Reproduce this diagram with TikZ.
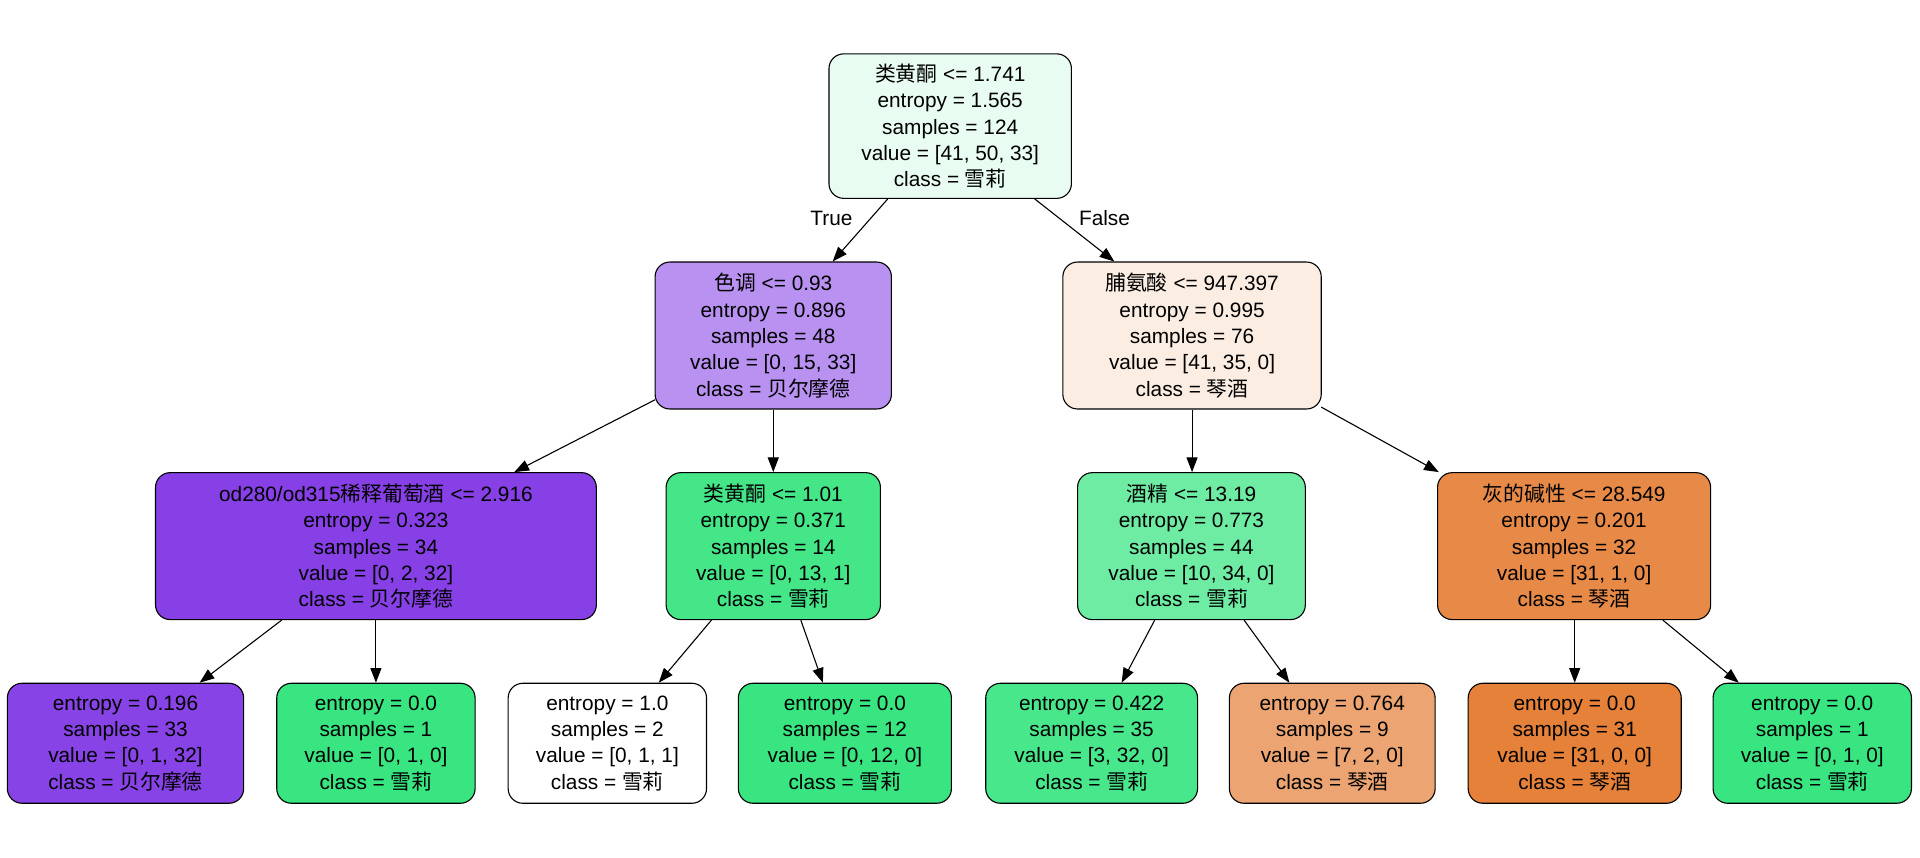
\documentclass[tikz,border=0pt]{standalone}
\usepackage{fontspec}
\setmainfont{Liberation Sans}
\newfontfamily\cjk{Noto Sans CJK SC}
\newcommand\zh[1]{{\cjk #1}}
\usetikzlibrary{calc,arrows.meta}
\begin{document}
\begin{tikzpicture}[x=1pt,y=-1pt,
  box/.style={draw,line width=0.9pt,rounded corners=12pt,align=center,inner sep=0pt,
    font=\fontsize{17}{21.5}\selectfont},
  ed/.style={line width=0.9pt,-{Triangle[length=12pt,width=9pt]}},
  lbl/.style={font=\fontsize{17}{20}\selectfont}]
\useasboundingbox[fill=white] (0,0) rectangle (1568,700);
\definecolor{c0}{HTML}{E9FCF1}
\definecolor{c1}{HTML}{B991F1}
\definecolor{c2}{HTML}{FBEDE2}
\definecolor{c3}{HTML}{8640E6}
\definecolor{c4}{HTML}{44E688}
\definecolor{c5}{HTML}{6FECA3}
\definecolor{c6}{HTML}{E78A48}
\definecolor{c7}{HTML}{8843E6}
\definecolor{c8}{HTML}{39E581}
\definecolor{c9}{HTML}{49E78C}
\definecolor{c10}{HTML}{ECA572}
\definecolor{c11}{HTML}{E58139}
\node[box,fill=c0,minimum width=198pt,minimum height=118pt] (r) at (776,103) {\zh{类黄酮} <= 1.741\\entropy = 1.565\\samples = 124\\value = [41, 50, 33]\\class = \zh{雪莉}};
\node[box,fill=c1,minimum width=193pt,minimum height=120pt] (l) at (631.5,274) {\zh{色调} <= 0.93\\entropy = 0.896\\samples = 48\\value = [0, 15, 33]\\class = \zh{贝尔摩德}};
\node[box,fill=c2,minimum width=211pt,minimum height=120pt] (rr) at (973.5,274) {\zh{脯氨酸} <= 947.397\\entropy = 0.995\\samples = 76\\value = [41, 35, 0]\\class = \zh{琴酒}};
\node[box,fill=c3,minimum width=360pt,minimum height=120pt] (A) at (307,446) {od280/od315\zh{稀释葡萄酒} <= 2.916\\entropy = 0.323\\samples = 34\\value = [0, 2, 32]\\class = \zh{贝尔摩德}};
\node[box,fill=c4,minimum width=175pt,minimum height=120pt] (B) at (631.5,446) {\zh{类黄酮} <= 1.01\\entropy = 0.371\\samples = 14\\value = [0, 13, 1]\\class = \zh{雪莉}};
\node[box,fill=c5,minimum width=186pt,minimum height=120pt] (C) at (973,446) {\zh{酒精} <= 13.19\\entropy = 0.773\\samples = 44\\value = [10, 34, 0]\\class = \zh{雪莉}};
\node[box,fill=c6,minimum width=223pt,minimum height=120pt] (D) at (1285.5,446) {\zh{灰的碱性} <= 28.549\\entropy = 0.201\\samples = 32\\value = [31, 1, 0]\\class = \zh{琴酒}};
\node[box,fill=c7,minimum width=193pt,minimum height=98pt] (a) at (102.5,607) {entropy = 0.196\\samples = 33\\value = [0, 1, 32]\\class = \zh{贝尔摩德}};
\node[box,fill=c8,minimum width=162pt,minimum height=98pt] (b) at (307,607) {entropy = 0.0\\samples = 1\\value = [0, 1, 0]\\class = \zh{雪莉}};
\node[box,fill=white,minimum width=162pt,minimum height=98pt] (c) at (496,607) {entropy = 1.0\\samples = 2\\value = [0, 1, 1]\\class = \zh{雪莉}};
\node[box,fill=c8,minimum width=174pt,minimum height=98pt] (d) at (690,607) {entropy = 0.0\\samples = 12\\value = [0, 12, 0]\\class = \zh{雪莉}};
\node[box,fill=c9,minimum width=173pt,minimum height=98pt] (e) at (891.5,607) {entropy = 0.422\\samples = 35\\value = [3, 32, 0]\\class = \zh{雪莉}};
\node[box,fill=c10,minimum width=168pt,minimum height=98pt] (f) at (1088,607) {entropy = 0.764\\samples = 9\\value = [7, 2, 0]\\class = \zh{琴酒}};
\node[box,fill=c11,minimum width=174pt,minimum height=98pt] (g) at (1286,607) {entropy = 0.0\\samples = 31\\value = [31, 0, 0]\\class = \zh{琴酒}};
\node[box,fill=c8,minimum width=162pt,minimum height=98pt] (h) at (1480,607) {entropy = 0.0\\samples = 1\\value = [0, 1, 0]\\class = \zh{雪莉}};
\draw[ed] ($(r.south)+(-51,0)$) -- ($(l.north)+(48.5,0)$);
\draw[ed] ($(r.south)+(69,0)$) -- ($(rr.north)+(-63.5,0)$);
\draw[ed] ($(l.south)+(-96.5,-8)$) -- ($(A.north)+(113,0)$);
\draw[ed] (l.south) -- (B.north);
\draw[ed] (rr.south) -- ($(C.north)+(0.5,0)$);
\draw[ed] ($(rr.south)+(105.5,-2)$) -- ($(D.north)+(-110.5,0)$);
\draw[ed] ($(A.south)+(-77,0)$) -- ($(a.north)+(60.5,0)$);
\draw[ed] (A.south) -- (b.north);
\draw[ed] ($(B.south)+(-50.5,0)$) -- ($(c.north)+(42,0)$);
\draw[ed] ($(B.south)+(22.5,0)$) -- ($(d.north)+(-18,0)$);
\draw[ed] ($(C.south)+(-30,0)$) -- ($(e.north)+(24.5,0)$);
\draw[ed] ($(C.south)+(43,0)$) -- ($(f.north)+(-35,0)$);
\draw[ed] ($(D.south)+(0.5,0)$) -- (g.north);
\draw[ed] ($(D.south)+(72.5,0)$) -- ($(h.north)+(-60,0)$);
\node[lbl] (tl) at (679,178) {True};
\node[lbl] (fl) at (902,178) {False};
\end{tikzpicture}
\end{document}
